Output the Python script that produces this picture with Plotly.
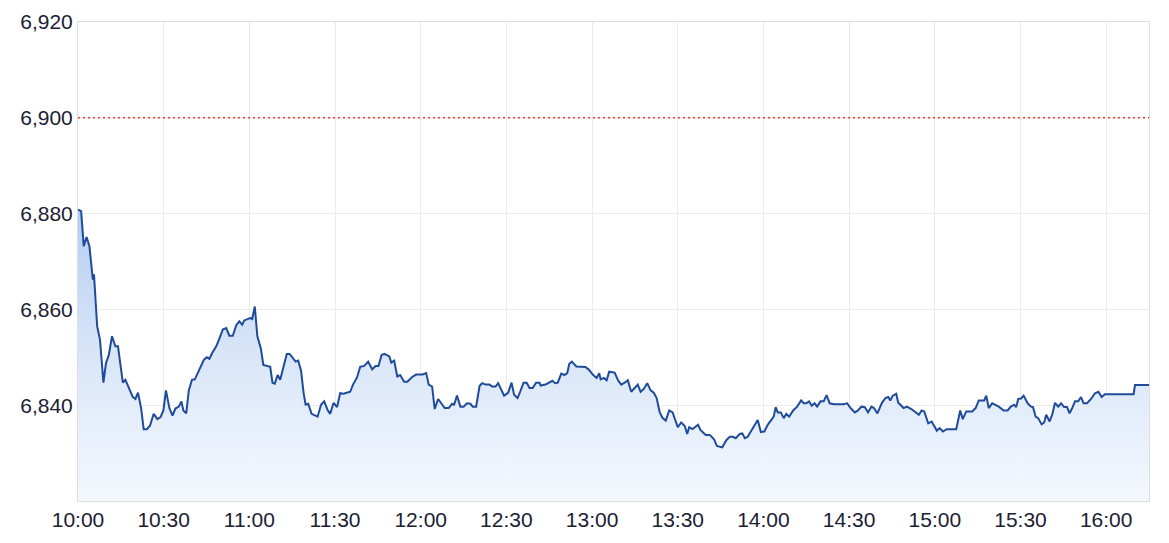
import pandas as pd
import plotly.graph_objects as go

# Intraday index level (minutes after the 10:00 open)
minutes = [
    0.0, 1.1, 2.0, 3.0, 4.0, 5.2, 5.6, 6.7, 7.7, 8.9, 9.8, 10.8, 11.9, 13.1, 14.0, 14.8,
    15.7, 16.6, 17.8, 19.2, 20.1, 21.0, 22.1, 23.0, 24.1, 25.2, 26.5, 27.8, 28.9, 29.9,
    30.8, 32.0, 33.1, 34.1, 35.3, 36.2, 36.9, 37.9, 38.8, 39.9, 40.9, 42.3, 44.1, 45.1,
    46.0, 47.0, 48.4, 49.5, 50.7, 51.9, 53.0, 54.2, 55.4, 56.5, 57.5, 58.2, 60.3, 61.0,
    61.9, 62.8, 64.0, 64.9, 66.1, 67.3, 68.1, 68.9, 69.9, 70.8, 72.2, 73.1, 74.1, 76.2,
    77.1, 78.1, 79.0, 79.7, 80.6, 81.8, 83.9, 85.1, 86.2, 87.4, 88.3, 89.5, 90.7, 91.8,
    93.0, 94.2, 95.3, 96.3, 97.7, 98.8, 100.2, 101.6, 103.0, 104.2, 105.2, 106.3, 107.3,
    109.0, 109.7, 110.7, 111.8, 112.8, 114.2, 115.3, 117.0, 118.4, 120.7, 121.9, 122.8,
    124.0, 124.9, 126.1, 127.2, 128.4, 129.8, 131.0, 131.7, 132.7, 133.9, 135.0, 136.2,
    137.4, 138.2, 139.4, 140.6, 141.5, 142.7, 144.1, 145.0, 146.2, 147.1, 149.2, 150.6,
    151.8, 152.7, 153.9, 154.8, 156.0, 157.1, 158.1, 159.2, 160.4, 161.6, 162.0, 163.7,
    165.2, 166.1, 167.1, 168.0, 169.2, 170.3, 171.3, 172.0, 172.9, 174.5, 177.7, 178.9,
    180.4, 181.6, 182.5, 183.0, 184.1, 185.1, 186.0, 187.9, 189.1, 190.2, 191.4, 192.5,
    193.7, 194.9, 196.0, 197.0, 198.1, 199.3, 200.5, 201.6, 202.6, 203.7, 204.7, 205.8,
    207.0, 208.2, 210.0, 211.2, 212.4, 213.3, 214.0, 215.2, 217.1, 218.0, 219.8, 221.2,
    222.7, 223.7, 225.6, 227.0, 228.2, 229.3, 230.3, 231.7, 232.6, 233.5, 234.5, 235.9,
    237.5, 238.0, 239.1, 240.3, 241.5, 242.9, 243.6, 244.3, 245.0, 246.1, 247.1, 248.0,
    249.0, 250.4, 251.8, 253.2, 254.1, 255.0, 256.0, 256.9, 257.9, 258.8, 260.0, 261.1,
    262.1, 263.2, 264.6, 268.1, 269.3, 270.5, 272.0, 273.1, 274.3, 275.5, 276.6, 277.8,
    278.7, 279.9, 281.5, 282.7, 283.7, 284.4, 285.3, 286.5, 287.2, 289.1, 290.2, 291.8,
    293.4, 294.4, 295.4, 296.3, 297.7, 298.9, 300.7, 301.7, 302.8, 304.2, 307.5, 308.9,
    309.8, 311.0, 313.1, 314.3, 315.4, 317.3, 318.0, 318.9, 320.1, 322.4, 324.1, 325.5,
    326.6, 327.8, 328.5, 329.2, 330.2, 331.1, 332.5, 333.7, 334.4, 335.3, 336.2, 337.4,
    338.3, 339.0, 340.2, 341.1, 342.1, 343.2, 344.2, 345.3, 346.3, 347.2, 348.1, 349.1,
    350.2, 351.2, 352.1, 353.3, 354.7, 356.1, 357.3, 358.4, 359.6, 369.6, 370.1, 375.0,
]
levels = [
    6880.8, 6880.5, 6873.2, 6875.1, 6873.2, 6866.2, 6867.3, 6856.5, 6853.7, 6844.7, 6848.8,
    6850.5, 6854.4, 6852.3, 6852.3, 6848.8, 6844.7, 6845.3, 6843.6, 6841.7, 6841.3, 6842.6,
    6839.4, 6835.0, 6835.0, 6835.7, 6838.2, 6837.1, 6837.5, 6838.9, 6843.1, 6839.4, 6837.8,
    6839.3, 6839.7, 6840.8, 6838.9, 6838.3, 6843.1, 6845.3, 6845.4, 6847.2, 6849.5, 6850.0,
    6849.7, 6850.9, 6852.3, 6853.9, 6855.8, 6856.1, 6854.5, 6854.5, 6856.7, 6857.5, 6856.8,
    6857.7, 6858.2, 6858.0, 6860.6, 6854.4, 6851.9, 6848.4, 6848.2, 6848.0, 6844.7, 6844.5,
    6846.3, 6845.3, 6848.6, 6850.7, 6850.7, 6849.1, 6849.3, 6847.2, 6842.5, 6840.1, 6840.3,
    6838.2, 6837.6, 6840.1, 6840.8, 6839.0, 6838.2, 6840.5, 6839.6, 6842.5, 6842.4, 6842.6,
    6842.8, 6844.3, 6845.8, 6848.0, 6848.2, 6849.1, 6847.5, 6848.2, 6848.2, 6850.5, 6850.7,
    6850.2, 6848.9, 6849.3, 6846.0, 6846.3, 6844.9, 6844.9, 6845.9, 6846.4, 6846.4, 6846.7,
    6844.3, 6843.9, 6839.2, 6841.3, 6840.4, 6839.4, 6839.4, 6840.3, 6840.1, 6842.0, 6839.7,
    6839.7, 6840.4, 6840.3, 6839.7, 6839.7, 6844.0, 6844.6, 6844.3, 6844.3, 6843.9, 6843.9,
    6844.6, 6842.0, 6842.6, 6844.7, 6842.2, 6841.5, 6842.8, 6844.7, 6844.7, 6843.6, 6843.6,
    6844.7, 6844.7, 6844.1, 6844.3, 6844.7, 6845.1, 6844.6, 6844.7, 6846.6, 6846.3, 6846.7,
    6848.6, 6849.1, 6848.1, 6848.0, 6847.4, 6846.3, 6845.7, 6846.7, 6845.4, 6845.7, 6845.2,
    6847.0, 6846.8, 6845.2, 6844.3, 6844.7, 6845.2, 6842.8, 6843.6, 6844.3, 6842.8, 6843.4,
    6844.6, 6843.1, 6842.6, 6841.5, 6838.5, 6837.3, 6836.8, 6838.9, 6838.5, 6835.4, 6836.4,
    6835.7, 6834.0, 6835.4, 6835.0, 6835.9, 6834.8, 6833.8, 6833.8, 6832.9, 6831.5, 6831.2,
    6832.7, 6833.4, 6833.4, 6833.1, 6834.0, 6834.1, 6833.1, 6833.4, 6834.8, 6836.6, 6836.9,
    6834.4, 6834.5, 6835.9, 6837.1, 6837.6, 6839.6, 6838.5, 6838.5, 6837.3, 6838.2, 6837.6,
    6838.9, 6839.7, 6841.0, 6840.4, 6840.4, 6840.8, 6839.9, 6840.4, 6839.7, 6840.8, 6840.8,
    6842.1, 6840.4, 6840.2, 6840.2, 6840.4, 6839.4, 6838.5, 6838.9, 6839.7, 6839.6, 6838.5,
    6839.7, 6839.4, 6838.3, 6840.5, 6841.5, 6841.7, 6841.0, 6842.0, 6842.4, 6840.5, 6839.4,
    6839.7, 6839.2, 6838.5, 6838.0, 6838.9, 6838.7, 6836.2, 6836.6, 6834.7, 6835.2, 6834.5,
    6835.0, 6835.0, 6838.9, 6837.1, 6838.7, 6838.7, 6839.4, 6841.0, 6841.0, 6842.0, 6839.4,
    6840.4, 6839.7, 6838.9, 6838.9, 6839.7, 6840.1, 6839.6, 6841.3, 6841.4, 6842.0, 6840.4,
    6839.7, 6839.6, 6837.6, 6837.3, 6836.0, 6836.4, 6838.0, 6836.6, 6838.0, 6840.5, 6839.7,
    6840.4, 6839.6, 6839.6, 6838.3, 6839.4, 6840.8, 6840.8, 6841.7, 6840.4, 6840.4, 6841.3,
    6842.5, 6842.8, 6841.7, 6842.3, 6842.3, 6844.2, 6844.2,
]

prev_close = 6900
y_ticks = [6840, 6860, 6880, 6900, 6920]

session_open = pd.Timestamp("2024-01-02 10:00")
times = session_open + pd.to_timedelta(minutes, unit="min")

font_color = "#1b2133"
grid_color = "#ececec"

fig = go.Figure()
fig.add_trace(
    go.Scatter(
        x=times,
        y=levels,
        mode="lines",
        line=dict(color="#1f4b9b", width=2),
        fill="tozeroy",
        fillgradient=dict(
            type="vertical",
            start=6820,
            stop=6881,
            colorscale=[[0, "#f4f8fe"], [0.5, "#d9e6f8"], [1, "#b3cdf2"]],
        ),
        hoverinfo="skip",
    )
)

# previous close reference
fig.add_hline(y=prev_close, line=dict(color="#e8392f", width=1.5, dash="2px,3px"))

# page body has an 8px margin, so the figure is trimmed to fit the window
fig.update_layout(
    width=1161,
    height=535,
    margin=dict(l=70, r=20, t=14, b=42),
    paper_bgcolor="white",
    plot_bgcolor="white",
    showlegend=False,
    font=dict(family="Arial, Liberation Sans, sans-serif", size=21, color=font_color),
)
fig.update_xaxes(
    range=[session_open, session_open + pd.Timedelta(minutes=375)],
    dtick=30 * 60 * 1000,
    tick0=session_open,
    tickformat="%H:%M",
    showgrid=True,
    gridcolor=grid_color,
    showline=True,
    linecolor="#dddddd",
    mirror=True,
    ticks="",
    zeroline=False,
    automargin=False,
)
fig.update_yaxes(
    range=[6820, 6920],
    tickvals=y_ticks,
    tickformat=",",
    showgrid=True,
    gridcolor=grid_color,
    showline=True,
    linecolor="#dddddd",
    mirror=True,
    ticks="",
    zeroline=False,
    automargin=False,
)

fig.write_html("out.html")
